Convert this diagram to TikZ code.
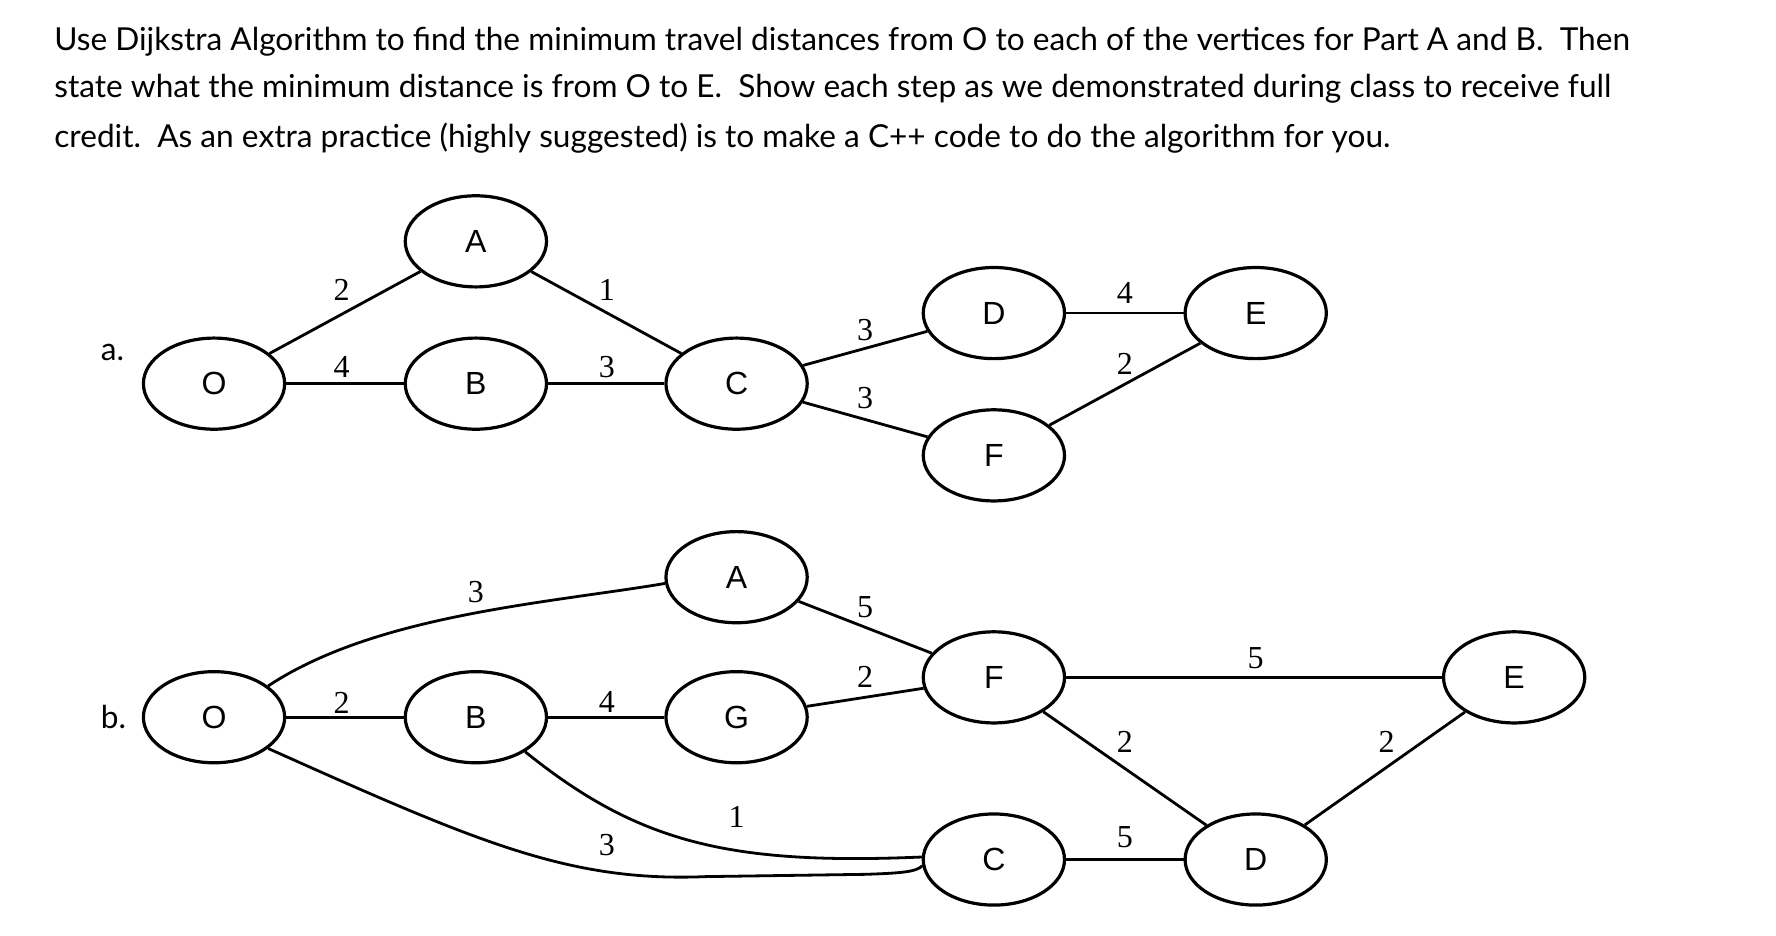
\documentclass[tikz,border=0pt]{standalone}
\usepackage{fontspec}
\usetikzlibrary{shapes.geometric}
\setmainfont{Lato}
\newfontfamily\nodefont{Liberation Sans}
\newfontfamily\labfont{Liberation Serif}
\begin{document}
\begin{tikzpicture}[x=0.01cm,y=-0.01cm,
  v/.style={draw,line width=0.8pt,ellipse,minimum width=1.24cm,minimum height=0.8cm,inner sep=0pt,font=\nodefont\fontsize{8}{9}\selectfont},
  e/.style={line width=0.7pt},
  w/.style={font=\labfont\fontsize{8}{9}\selectfont,inner sep=0pt},
  t/.style={anchor=west,font=\fontsize{7.9}{9}\selectfont,inner sep=0pt}]
\useasboundingbox (0,0) rectangle (1560,822);
\node[t] (t1) at (47,37) {Use Dijkstra Algorithm to find the minimum travel distances from O to each of the vertices for Part A and B.\ \ Then};
\node[t] (t2) at (47,78) {state what the minimum distance is from O to E.\ \ Show each step as we demonstrated during class to receive full};
\node[t] (t3) at (47,121) {credit.\ \ As an extra practice (highly suggested) is to make a C++ code to do the algorithm for you.};
% part a
\node[t] (la) at (88,310) {a.};
\node[v] (aO) at (188,337) {O};
\node[v] (aA) at (418,212) {A};
\node[v] (aB) at (418,337) {B};
\node[v] (aC) at (647,337) {C};
\node[v] (aD) at (873,275) {D};
\node[v] (aE) at (1103,275) {E};
\node[v] (aF) at (873,400) {F};
\draw[e] (aO) -- (aA); \draw[e] (aA) -- (aC);
\draw[e] (aO) -- (aB); \draw[e] (aB) -- (aC);
\draw[e] (aC) -- (aD); \draw[e] (aC) -- (aF);
\draw[e] (aD) -- (aE); \draw[e] (aF) -- (aE);
\node[w] (l1) at (300,255) {2};
\node[w] (l2) at (533,255) {1};
\node[w] (l3) at (300,322) {4};
\node[w] (l4) at (533,322) {3};
\node[w] (l5) at (760,290) {3};
\node[w] (l6) at (760,350) {3};
\node[w] (l7) at (988,257) {4};
\node[w] (l8) at (988,320) {2};
% part b
\node[t] (lb) at (88,630) {b.};
\node[v] (bO) at (188,630) {O};
\node[v] (bB) at (418,630) {B};
\node[v] (bG) at (647,630) {G};
\node[v] (bA) at (647,507) {A};
\node[v] (bF) at (873,595) {F};
\node[v] (bE) at (1330,595) {E};
\node[v] (bC) at (873,755) {C};
\node[v] (bD) at (1103,755) {D};
\draw[e] (bO.30) .. controls (330,540) and (480,530) .. (bA.185);
\draw[e] (bO) -- (bB); \draw[e] (bB) -- (bG);
\draw[e] (bG) -- (bF); \draw[e] (bA) -- (bF);
\draw[e] (bF) -- (bE); \draw[e] (bF) -- (bD);
\draw[e] (bE) -- (bD); \draw[e] (bC) -- (bD);
\draw[e] (bB.-35) .. controls (560,740) and (640,760) .. (bC.178);
\draw[e] (bO.-30) .. controls (420,740) and (500,775) .. (620,770) -- (760,768) .. controls (790,767) and (805,766) .. (bC.185);
\node[w] (m1) at (418,520) {3};
\node[w] (m2) at (300,617) {2};
\node[w] (m3) at (533,617) {4};
\node[w] (m4) at (760,595) {2};
\node[w] (m5) at (760,533) {5};
\node[w] (m6) at (1103,578) {5};
\node[w] (m7) at (988,652) {2};
\node[w] (m8) at (1218,652) {2};
\node[w] (m9) at (988,735) {5};
\node[w] (m10) at (647,718) {1};
\node[w] (m11) at (533,742) {3};
\end{tikzpicture}
\end{document}
